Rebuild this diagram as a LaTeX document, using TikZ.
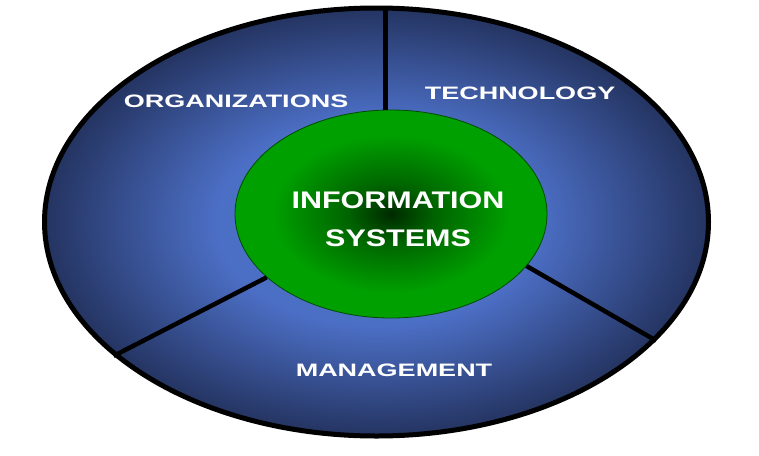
\documentclass[tikz,border=0pt]{standalone}
\usepackage{fontspec}
\setmainfont{Liberation Sans}
\usetikzlibrary{shapes.geometric}
\definecolor{ringlight}{RGB}{76,111,198}
\definecolor{ringdark}{RGB}{30,43,82}
\definecolor{coredark}{RGB}{0,42,0}
\definecolor{coremid}{RGB}{0,100,0}
\definecolor{corelight}{RGB}{0,160,0}
\pgfdeclareradialshading{ringshade}{\pgfpoint{0bp}{0bp}}{color(0bp)=(ringlight); color(12bp)=(ringlight); color(27bp)=(ringdark); color(50bp)=(ringdark)}
\pgfdeclareradialshading{coreshade}{\pgfpoint{0bp}{0bp}}{color(0bp)=(coredark); color(7bp)=(coremid); color(19bp)=(corelight); color(50bp)=(corelight)}
\newcommand\widetext[2]{\scalebox{#1}[1]{#2}}

\begin{document}
\begin{tikzpicture}[x=1pt,y=-1pt,
ring/.style={ellipse, draw=black, line width=5pt, shading=ringshade, inner sep=0pt, minimum width=664pt, minimum height=428pt},
core/.style={ellipse, draw=black!70!green, line width=0.8pt, shading=coreshade, inner sep=0pt, minimum width=312pt, minimum height=208pt},
divider/.style={line width=4.5pt, black},
segtext/.style={text=white, font=\fontsize{18}{18}\selectfont\bfseries},
coretext/.style={text=white, font=\fontsize{24}{38}\selectfont\bfseries, align=center}]
\useasboundingbox (0,0) rectangle (759,455);
\node[ring] (outer) at (376.5,222) {};
\node[core] (core) at (391,214) {};
\draw[divider] (core.93) -- (core.93 |- outer.north);
\draw[divider] (core.207) -- (outer.207);
\draw[divider] (core.-21) -- (outer.-23);
\node[segtext] (org) at (236,101) {\widetext{1.5}{ORGANIZATIONS}};
\node[segtext] (tech) at (520,93) {\widetext{1.5}{TECHNOLOGY}};
\node[segtext] (mgmt) at (394,370) {\widetext{1.5}{MANAGEMENT}};
\node[coretext] (is) at (398,219) {\widetext{1.27}{INFORMATION}\\\widetext{1.27}{SYSTEMS}};
\end{tikzpicture}
\end{document}
